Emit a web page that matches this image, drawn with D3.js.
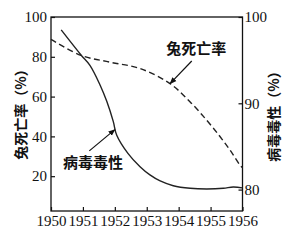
<!DOCTYPE html>
<html>
<head>
<meta charset="utf-8">
<script src="https://cdn.jsdelivr.net/npm/d3@7"></script>
<style>
  body { margin: 0; background: #fff; }
  svg { display: block; }
</style>
</head>
<body>
<svg id="chart" width="295" height="242"></svg>
<script>
// years on the x axis
var years = [1950, 1951, 1952, 1953, 1954, 1955, 1956]
var leftTicks = [20, 40, 60, 80, 100]
var rightTicks = [80, 90, 100]

// rabbit mortality (left axis, dashed)
var mortYears = [1950, 1950.94, 1951.85, 1952.79, 1953.73, 1954.36, 1954.88, 1955.3, 1955.61, 1955.92, 1956]
var mortality = [88.8, 80.7, 77.3, 74.1, 66.5, 57.3, 48.1, 39.8, 33.1, 25.6, 24.2]

// virus virulence (right axis, solid)
var virYears = [1950.32, 1950.94, 1951.22, 1951.54, 1951.75, 1951.95, 1952.06, 1952.41, 1952.79, 1953.1, 1953.42, 1953.83, 1954.36, 1954.88, 1955.4, 1955.71, 1956]
var virulence = [98.5, 95.6, 94.4, 92.1, 90.2, 87.9, 86.3, 84.2, 82.65, 81.7, 81.0, 80.45, 80.15, 80.07, 80.15, 80.3, 80.2]

var svg = d3.select("#chart")
var plotL = 51, plotR = 242.5, plotT = 17, plotB = 211

var x = d3.scaleLinear().domain([1950, 1956]).range([plotL, plotR])
var yL = d3.scaleLinear().domain([2.5, 100]).range([plotB, plotT])
var yR = d3.scaleLinear().domain([77.52, 100]).range([plotB, plotT])

var serif = "'Liberation Serif', 'Times New Roman', serif"
var cjk = "'Noto Sans CJK SC', sans-serif"

// frame
svg.append("rect")
    .attr("x", plotL).attr("y", plotT)
    .attr("width", plotR - plotL).attr("height", plotB - plotT)
    .attr("fill", "none").attr("stroke", "#111").attr("stroke-width", 1.3)

function styleAxis(g) {
    g.select(".domain").remove()
    g.selectAll(".tick line").attr("stroke", "#111").attr("stroke-width", 1.2)
    g.selectAll(".tick text")
        .attr("fill", "#111")
        .style("font-family", serif)
        .style("font-size", "15px")
}

svg.append("g")
    .attr("transform", "translate(0," + plotB + ")")
    .call(d3.axisBottom(x).tickValues(years).tickFormat(d3.format("d"))
        .tickSizeInner(-4).tickSizeOuter(0).tickPadding(4))
    .call(styleAxis)

svg.append("g")
    .attr("transform", "translate(" + plotL + ",0)")
    .call(d3.axisLeft(yL).tickValues(leftTicks)
        .tickSizeInner(-4).tickSizeOuter(0).tickPadding(4))
    .call(styleAxis)

svg.append("g")
    .attr("transform", "translate(" + plotR + ",0)")
    .call(d3.axisRight(yR).tickValues(rightTicks)
        .tickSizeInner(-4).tickSizeOuter(0).tickPadding(2))
    .call(styleAxis)

// axis titles
svg.append("text")
    .attr("transform", "translate(20,111) rotate(-90)")
    .attr("text-anchor", "middle").attr("dominant-baseline", "central")
    .style("font-family", cjk).style("font-size", "14px").style("font-weight", "bold")
    .attr("fill", "#111")
    .text("兔死亡率（%）")

svg.append("text")
    .attr("transform", "translate(273,113) rotate(-90)")
    .attr("text-anchor", "middle").attr("dominant-baseline", "central")
    .style("font-family", cjk).style("font-size", "14px").style("font-weight", "bold")
    .attr("fill", "#111")
    .text("病毒毒性（%）")

// curves
var mortLine = d3.line()
    .x(function(d, i) { return x(mortYears[i]) })
    .y(function(d) { return yL(d) })
    .curve(d3.curveCatmullRom.alpha(0.5))

var virLine = d3.line()
    .x(function(d, i) { return x(virYears[i]) })
    .y(function(d) { return yR(d) })
    .curve(d3.curveCatmullRom.alpha(0.5))

svg.append("path")
    .datum(mortality)
    .attr("d", mortLine)
    .attr("fill", "none").attr("stroke", "#222")
    .attr("stroke-width", 1.4).attr("stroke-dasharray", "6,3.5")

svg.append("path")
    .datum(virulence)
    .attr("d", virLine)
    .attr("fill", "none").attr("stroke", "#222")
    .attr("stroke-width", 1.4)

// arrows
svg.append("defs").append("marker")
    .attr("id", "head")
    .attr("viewBox", "0 0 10 10")
    .attr("refX", 9).attr("refY", 5)
    .attr("markerWidth", 7).attr("markerHeight", 7)
    .attr("markerUnits", "userSpaceOnUse")
    .attr("orient", "auto")
    .append("path").attr("d", "M0,1 L10,5 L0,9 Z").attr("fill", "#111")

var notes = [
    { label: "兔死亡率", tx: 1954.55, ty: 84.6, x1: 1954.41, y1: 77.9, x2: 1953.73, y2: 66.5 },
    { label: "病毒毒性", tx: 1951.32, ty: 27.2, x1: 1951.2, y1: 32.7, x2: 1952.0, y2: 43.4 }
]

notes.forEach(function(n) {
    svg.append("line")
        .attr("x1", x(n.x1)).attr("y1", yL(n.y1))
        .attr("x2", x(n.x2)).attr("y2", yL(n.y2))
        .attr("stroke", "#111").attr("stroke-width", 1.2)
        .attr("marker-end", "url(#head)")
    svg.append("text")
        .attr("x", x(n.tx)).attr("y", yL(n.ty))
        .attr("text-anchor", "middle").attr("dominant-baseline", "central")
        .style("font-family", cjk).style("font-size", "15px").style("font-weight", "bold")
        .attr("fill", "#111")
        .text(n.label)
})
</script>
</body>
</html>
